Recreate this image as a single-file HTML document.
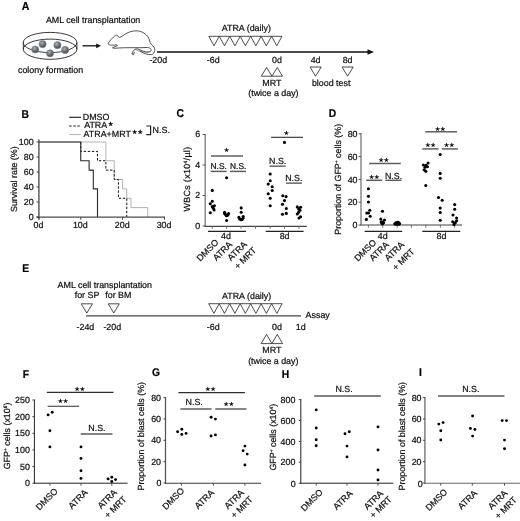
<!DOCTYPE html>
<html lang="en">
<head>
<meta charset="utf-8">
<title>Figure</title>
<style>html,body{margin:0;padding:0;background:#fff;}svg{display:block;}text{stroke:#111;stroke-width:.22px;text-rendering:geometricPrecision;}</style>
</head>
<body>
<svg width="520" height="521" viewBox="0 0 520 521" font-family="'Liberation Sans', Arial, sans-serif" fill="#111">
<defs><radialGradient id="ball" cx="40%" cy="35%" r="70%"><stop offset="0" stop-color="#b0b0b0"/><stop offset="0.55" stop-color="#6c6c6c"/><stop offset="1" stop-color="#3e3e3e"/></radialGradient></defs>
<rect width="520" height="521" fill="#fff"/>
<text x="21.80" y="9.50" font-size="11.5" font-weight="bold" transform="translate(21.80 9.50) scale(0.92 1) translate(-21.80 -9.50)" fill="#000">A</text>
<text x="45.90" y="22.80" font-size="8.9">AML cell transplantation</text>
<text x="18.00" y="72.80" font-size="8.9">colony formation</text>
<ellipse cx="50.1" cy="42.5" rx="26.8" ry="10.1" fill="none" stroke="#222" stroke-width="0.9"/>
<ellipse cx="50.1" cy="49.2" rx="26.8" ry="10.1" fill="none" stroke="#222" stroke-width="0.9"/>
<line x1="23.30" y1="42.50" x2="23.30" y2="49.20" stroke="#222" stroke-width="0.9"/>
<line x1="76.90" y1="42.50" x2="76.90" y2="49.20" stroke="#222" stroke-width="0.9"/>
<circle cx="42.6" cy="44.1" r="3.6" fill="url(#ball)" stroke="#6f8db3" stroke-width="0.6"/>
<circle cx="57.4" cy="45.2" r="3.6" fill="url(#ball)" stroke="#6f8db3" stroke-width="0.6"/>
<circle cx="35.2" cy="49.5" r="3.6" fill="url(#ball)" stroke="#6f8db3" stroke-width="0.6"/>
<circle cx="50.0" cy="53.3" r="3.6" fill="url(#ball)" stroke="#6f8db3" stroke-width="0.6"/>
<circle cx="65.1" cy="49.9" r="3.6" fill="url(#ball)" stroke="#6f8db3" stroke-width="0.6"/>
<line x1="82.50" y1="45.80" x2="97.50" y2="45.80" stroke="#111" stroke-width="1.3"/>
<polygon points="96.2,43.4 101,45.8 96.2,48.2" fill="#111"/>
<path d="M108.12,43.75 C108.75,41.88 112.50,37.50 115.62,35.25 L116.88,35.25 L119.38,37.50 C121.25,37.25 124.38,34.38 126.88,33.12 C130.00,31.50 133.75,30.62 137.50,30.88 C142.50,31.25 148.12,35.00 149.38,40.00 C149.75,43.75 152.50,45.00 154.00,47.25 C155.62,50.00 154.75,53.75 151.25,54.62 C147.50,55.25 142.50,52.75 139.38,50.62" fill="none" stroke="#333" stroke-width="0.85"/>
<path d="M108.12,43.75 C108.50,45.00 111.25,45.75 116.25,44.75 L117.50,45.50 L112.50,47.75 L114.00,48.25 C125.00,47.25 137.50,48.00 147.50,47.50 C150.62,47.75 152.25,50.00 150.25,51.62 C147.50,53.00 143.12,51.25 139.38,49.50 C136.88,48.25 134.38,48.75 133.12,51.25 L131.88,54.00 L133.50,54.75 L134.38,51.88" fill="none" stroke="#333" stroke-width="0.85"/>
<path d="M135.25,49.50 C140.00,51.88 145.00,52.75 149.38,51.50" fill="none" stroke="#555" stroke-width="0.6"/>
<line x1="157.00" y1="52.00" x2="369.00" y2="52.00" stroke="#111" stroke-width="1.35"/>
<polygon points="367.5,49.3 374,52 367.5,54.7" fill="#111"/>
<text x="158.30" y="62.60" font-size="8.9" text-anchor="middle">-20d</text>
<text x="213.20" y="62.60" font-size="8.9" text-anchor="middle">-6d</text>
<text x="277.00" y="62.60" font-size="8.9" text-anchor="middle">0d</text>
<text x="315.60" y="62.60" font-size="8.9" text-anchor="middle">4d</text>
<text x="347.60" y="62.60" font-size="8.9" text-anchor="middle">8d</text>
<text x="246.30" y="30.90" font-size="8.9" text-anchor="middle">ATRA (daily)</text>
<polygon points="208.80,36.30 219.26,36.30 214.03,45.80" fill="#fff" stroke="#222" stroke-width="0.8" stroke-linejoin="miter"/>
<polygon points="219.26,36.30 229.71,36.30 224.49,45.80" fill="#fff" stroke="#222" stroke-width="0.8" stroke-linejoin="miter"/>
<polygon points="229.71,36.30 240.17,36.30 234.94,45.80" fill="#fff" stroke="#222" stroke-width="0.8" stroke-linejoin="miter"/>
<polygon points="240.17,36.30 250.63,36.30 245.40,45.80" fill="#fff" stroke="#222" stroke-width="0.8" stroke-linejoin="miter"/>
<polygon points="250.63,36.30 261.09,36.30 255.86,45.80" fill="#fff" stroke="#222" stroke-width="0.8" stroke-linejoin="miter"/>
<polygon points="261.09,36.30 271.54,36.30 266.31,45.80" fill="#fff" stroke="#222" stroke-width="0.8" stroke-linejoin="miter"/>
<polygon points="271.54,36.30 282.00,36.30 276.77,45.80" fill="#fff" stroke="#222" stroke-width="0.8" stroke-linejoin="miter"/>
<polygon points="261.30,76.20 271.90,76.20 266.60,67.50" fill="#fff" stroke="#222" stroke-width="0.8" stroke-linejoin="miter"/>
<polygon points="271.90,76.20 282.50,76.20 277.20,67.50" fill="#fff" stroke="#222" stroke-width="0.8" stroke-linejoin="miter"/>
<text x="271.90" y="85.90" font-size="8.9" text-anchor="middle">MRT</text>
<text x="273.40" y="96.20" font-size="8.9" text-anchor="middle">(twice a day)</text>
<polygon points="310.00,67.00 321.20,67.00 315.60,76.20" fill="#fff" stroke="#222" stroke-width="0.8" stroke-linejoin="miter"/>
<polygon points="342.00,67.00 353.20,67.00 347.60,76.20" fill="#fff" stroke="#222" stroke-width="0.8" stroke-linejoin="miter"/>
<text x="331.20" y="85.60" font-size="8.9" text-anchor="middle">blood test</text>
<text x="21.60" y="117.70" font-size="11.2" font-weight="bold" transform="translate(21.60 117.70) scale(0.92 1) translate(-21.60 -117.70)" fill="#000">B</text>
<line x1="69.20" y1="117.30" x2="81.00" y2="117.30" stroke="#222" stroke-width="1.15"/>
<text x="82.80" y="120.30" font-size="8.9">DMSO</text>
<line x1="69.20" y1="126.00" x2="81.00" y2="126.00" stroke="#111" stroke-width="1.0" stroke-dasharray="2.4 1.7"/>
<text x="84.20" y="128.10" font-size="8.9">ATRA</text>
<text x="110.60" y="125.96" font-size="6.0" text-anchor="middle" fill="#000" font-family="DejaVu Sans, sans-serif">★</text>
<line x1="69.20" y1="134.60" x2="81.00" y2="134.60" stroke="#b2b2b2" stroke-width="1.0"/>
<text x="83.60" y="136.90" font-size="8.9">ATRA+MRT</text>
<text x="137.40" y="134.16" font-size="6.0" text-anchor="middle" fill="#000" font-family="DejaVu Sans, sans-serif">★★</text>
<path d="M146.3,126 L150.6,126 L150.6,134.7 L146.3,134.7" fill="none" stroke="#222" stroke-width="1.2"/>
<text x="152.60" y="133.10" font-size="8.9">N.S.</text>
<path d="M38.90,142.00 L105.86,142.00 L105.86,160.75 L114.23,160.75 L114.23,179.50 L122.60,179.50 L122.60,188.88 L126.78,188.88 L126.78,198.25 L130.97,198.25 L130.97,207.62 L147.71,207.62 L147.71,217.00" fill="none" stroke="#b2b2b2" stroke-width="1.0"/>
<path d="M80.75,142.00 L80.75,151.38 L97.49,151.38 L97.49,160.75 L105.86,160.75 L105.86,170.12 L114.23,170.12 L114.23,179.50 L118.41,179.50 L118.41,198.25 L126.78,198.25 L126.78,217.00" fill="none" stroke="#111" stroke-width="1.0" stroke-dasharray="2.4 1.7"/>
<path d="M38.90,142.00 L80.75,142.00 L80.75,160.75 L89.12,160.75 L89.12,170.12 L93.30,170.12 L93.30,188.88 L97.49,188.88 L97.49,217.00" fill="none" stroke="#2a2a2a" stroke-width="1.1"/>
<line x1="38.90" y1="139.60" x2="38.90" y2="219.60" stroke="#4a4a4a" stroke-width="1.35"/>
<line x1="36.30" y1="217.10" x2="164.95" y2="217.10" stroke="#4a4a4a" stroke-width="1.45"/>
<line x1="36.50" y1="217.00" x2="38.90" y2="217.00" stroke="#3a3a3a" stroke-width="0.9"/>
<text x="33.60" y="220.15" font-size="8.9" text-anchor="end">0</text>
<line x1="36.50" y1="202.00" x2="38.90" y2="202.00" stroke="#3a3a3a" stroke-width="0.9"/>
<text x="33.60" y="205.15" font-size="8.9" text-anchor="end">20</text>
<line x1="36.50" y1="187.00" x2="38.90" y2="187.00" stroke="#3a3a3a" stroke-width="0.9"/>
<text x="33.60" y="190.15" font-size="8.9" text-anchor="end">40</text>
<line x1="36.50" y1="172.00" x2="38.90" y2="172.00" stroke="#3a3a3a" stroke-width="0.9"/>
<text x="33.60" y="175.15" font-size="8.9" text-anchor="end">60</text>
<line x1="36.50" y1="157.00" x2="38.90" y2="157.00" stroke="#3a3a3a" stroke-width="0.9"/>
<text x="33.60" y="160.15" font-size="8.9" text-anchor="end">80</text>
<line x1="36.50" y1="142.00" x2="38.90" y2="142.00" stroke="#3a3a3a" stroke-width="0.9"/>
<text x="33.60" y="145.15" font-size="8.9" text-anchor="end">100</text>
<line x1="38.90" y1="217.00" x2="38.90" y2="219.70" stroke="#444" stroke-width="1.0"/>
<text x="38.50" y="228.00" font-size="8.9" text-anchor="middle">0d</text>
<line x1="80.75" y1="217.00" x2="80.75" y2="219.70" stroke="#444" stroke-width="1.0"/>
<text x="80.35" y="228.00" font-size="8.9" text-anchor="middle">10d</text>
<line x1="122.60" y1="217.00" x2="122.60" y2="219.70" stroke="#444" stroke-width="1.0"/>
<text x="122.20" y="228.00" font-size="8.9" text-anchor="middle">20d</text>
<line x1="164.45" y1="217.00" x2="164.45" y2="219.70" stroke="#444" stroke-width="1.0"/>
<text x="164.05" y="228.00" font-size="8.9" text-anchor="middle">30d</text>
<text x="17.40" y="179.20" font-size="8.9" text-anchor="middle" transform="rotate(-90 17.40 179.20)">Survival rate (%)</text>
<text x="176.60" y="117.00" font-size="11.3" font-weight="bold" transform="translate(176.60 117.00) scale(0.92 1) translate(-176.60 -117.00)" fill="#000">C</text>
<line x1="205.20" y1="134.00" x2="205.20" y2="226.60" stroke="#808080" stroke-width="1.4"/>
<line x1="204.50" y1="226.35" x2="306.80" y2="226.35" stroke="#444" stroke-width="1.05"/>
<line x1="202.60" y1="226.00" x2="205.20" y2="226.00" stroke="#555" stroke-width="1.0"/>
<text x="200.20" y="228.90" font-size="8.9" text-anchor="end">0</text>
<line x1="202.60" y1="195.50" x2="205.20" y2="195.50" stroke="#555" stroke-width="1.0"/>
<text x="200.20" y="198.40" font-size="8.9" text-anchor="end">2</text>
<line x1="202.60" y1="165.00" x2="205.20" y2="165.00" stroke="#555" stroke-width="1.0"/>
<text x="200.20" y="167.90" font-size="8.9" text-anchor="end">4</text>
<line x1="202.60" y1="134.50" x2="205.20" y2="134.50" stroke="#555" stroke-width="1.0"/>
<text x="200.20" y="137.40" font-size="8.9" text-anchor="end">6</text>
<line x1="212.30" y1="226.00" x2="212.30" y2="228.60" stroke="#666" stroke-width="1.0"/>
<line x1="226.60" y1="226.00" x2="226.60" y2="228.60" stroke="#666" stroke-width="1.0"/>
<line x1="241.00" y1="226.00" x2="241.00" y2="228.60" stroke="#666" stroke-width="1.0"/>
<line x1="255.50" y1="226.00" x2="255.50" y2="228.60" stroke="#666" stroke-width="1.0"/>
<line x1="270.10" y1="226.00" x2="270.10" y2="228.60" stroke="#666" stroke-width="1.0"/>
<line x1="284.50" y1="226.00" x2="284.50" y2="228.60" stroke="#666" stroke-width="1.0"/>
<line x1="299.00" y1="226.00" x2="299.00" y2="228.60" stroke="#666" stroke-width="1.0"/>
<text x="189.60" y="179.00" font-size="8.9" text-anchor="middle" transform="rotate(-90 189.60 179.00)" letter-spacing="0.35">WBCs (x10<tspan font-size="4.9" dy="-3">4</tspan><tspan dy="3">/µl)</tspan></text>
<g fill="#000"><circle cx="212.3" cy="190.4" r="1.55"/><circle cx="212.3" cy="201.3" r="1.55"/><circle cx="210.3" cy="203.8" r="1.55"/><circle cx="214.4" cy="205.7" r="1.55"/><circle cx="212.3" cy="206.6" r="1.55"/><circle cx="213.4" cy="208.2" r="1.55"/><circle cx="214.1" cy="209.9" r="1.55"/><circle cx="210.3" cy="212.7" r="1.55"/><circle cx="226.6" cy="177.8" r="1.55"/><circle cx="224.6" cy="212.4" r="1.55"/><circle cx="228.6" cy="213.6" r="1.55"/><circle cx="225.2" cy="214.3" r="1.55"/><circle cx="227.6" cy="215.3" r="1.55"/><circle cx="226.4" cy="215.7" r="1.55"/><circle cx="224.9" cy="213.6" r="1.55"/><circle cx="226.6" cy="220.5" r="1.55"/><circle cx="241.2" cy="207.9" r="1.55"/><circle cx="241.2" cy="212.3" r="1.55"/><circle cx="243.2" cy="216.6" r="1.55"/><circle cx="238.9" cy="217.2" r="1.55"/><circle cx="243.0" cy="218.3" r="1.55"/><circle cx="239.6" cy="219.0" r="1.55"/><circle cx="241.0" cy="219.7" r="1.55"/><circle cx="242.0" cy="219.4" r="1.55"/><circle cx="270.2" cy="174.0" r="1.55"/><circle cx="270.2" cy="180.7" r="1.55"/><circle cx="268.2" cy="184.1" r="1.55"/><circle cx="272.2" cy="186.8" r="1.55"/><circle cx="272.2" cy="190.5" r="1.55"/><circle cx="268.2" cy="193.8" r="1.55"/><circle cx="270.2" cy="198.2" r="1.55"/><circle cx="270.2" cy="205.8" r="1.55"/><circle cx="284.5" cy="142.4" r="1.55"/><circle cx="282.8" cy="195.8" r="1.55"/><circle cx="286.1" cy="196.6" r="1.55"/><circle cx="284.5" cy="200.6" r="1.55"/><circle cx="282.5" cy="204.2" r="1.55"/><circle cx="286.3" cy="208.5" r="1.55"/><circle cx="286.3" cy="213.4" r="1.55"/><circle cx="282.5" cy="214.3" r="1.55"/><circle cx="297.3" cy="206.9" r="1.55"/><circle cx="300.6" cy="207.2" r="1.55"/><circle cx="298.6" cy="208.9" r="1.55"/><circle cx="300.0" cy="210.3" r="1.55"/><circle cx="298.6" cy="212.3" r="1.55"/><circle cx="297.3" cy="214.0" r="1.55"/><circle cx="300.6" cy="216.7" r="1.55"/><circle cx="299.0" cy="218.0" r="1.55"/></g>
<line x1="208.00" y1="231.30" x2="246.00" y2="231.30" stroke="#222" stroke-width="1.3"/>
<line x1="265.70" y1="231.30" x2="303.60" y2="231.30" stroke="#222" stroke-width="1.3"/>
<text x="226.00" y="238.60" font-size="8.9" text-anchor="middle">4d</text>
<text x="284.60" y="238.60" font-size="8.9" text-anchor="middle">8d</text>
<line x1="211.00" y1="156.00" x2="243.00" y2="156.00" stroke="#5a5a5a" stroke-width="1.45"/>
<text x="226.60" y="151.69" font-size="5.8" text-anchor="middle" fill="#000" font-family="DejaVu Sans, sans-serif">★</text>
<line x1="210.70" y1="171.40" x2="226.70" y2="171.40" stroke="#5a5a5a" stroke-width="1.45"/>
<line x1="230.00" y1="171.40" x2="246.00" y2="171.40" stroke="#5a5a5a" stroke-width="1.45"/>
<text x="218.70" y="169.40" font-size="8.4" text-anchor="middle">N.S.</text>
<text x="238.20" y="169.40" font-size="8.4" text-anchor="middle">N.S.</text>
<line x1="271.10" y1="137.30" x2="303.00" y2="137.30" stroke="#2e2e2e" stroke-width="1.1"/>
<text x="286.30" y="135.49" font-size="5.8" text-anchor="middle" fill="#000" font-family="DejaVu Sans, sans-serif">★</text>
<text x="277.70" y="164.00" font-size="8.9" text-anchor="middle">N.S.</text>
<line x1="269.50" y1="166.10" x2="285.60" y2="166.10" stroke="#2e2e2e" stroke-width="1.1"/>
<text x="293.80" y="180.80" font-size="8.9" text-anchor="middle">N.S.</text>
<line x1="286.00" y1="183.10" x2="302.00" y2="183.10" stroke="#2e2e2e" stroke-width="1.1"/>
<text x="219.10" y="242.90" font-size="8.9" text-anchor="end" transform="rotate(-45 219.10 242.90)">DMSO</text>
<text x="232.80" y="245.00" font-size="8.9" text-anchor="end" transform="rotate(-45 232.80 245.00)">ATRA</text>
<text x="247.40" y="245.00" font-size="8.9" text-anchor="end" transform="rotate(-45 247.40 245.00)">ATRA</text>
<text x="256.80" y="250.80" font-size="8.9" text-anchor="end" transform="rotate(-45 256.80 250.80)">+ MRT</text>
<text x="328.80" y="117.20" font-size="11.2" font-weight="bold" transform="translate(328.80 117.20) scale(0.92 1) translate(-328.80 -117.20)" fill="#000">D</text>
<line x1="361.00" y1="133.30" x2="361.00" y2="225.60" stroke="#808080" stroke-width="1.4"/>
<line x1="360.30" y1="225.00" x2="462.00" y2="225.00" stroke="#808080" stroke-width="1.3"/>
<line x1="358.60" y1="225.00" x2="361.00" y2="225.00" stroke="#555" stroke-width="1.0"/>
<text x="357.50" y="228.10" font-size="8.9" text-anchor="end">0</text>
<line x1="358.60" y1="202.20" x2="361.00" y2="202.20" stroke="#555" stroke-width="1.0"/>
<text x="357.50" y="205.30" font-size="8.9" text-anchor="end">20</text>
<line x1="358.60" y1="179.40" x2="361.00" y2="179.40" stroke="#555" stroke-width="1.0"/>
<text x="357.50" y="182.50" font-size="8.9" text-anchor="end">40</text>
<line x1="358.60" y1="156.60" x2="361.00" y2="156.60" stroke="#555" stroke-width="1.0"/>
<text x="357.50" y="159.70" font-size="8.9" text-anchor="end">60</text>
<line x1="358.60" y1="133.80" x2="361.00" y2="133.80" stroke="#555" stroke-width="1.0"/>
<text x="357.50" y="136.90" font-size="8.9" text-anchor="end">80</text>
<line x1="368.40" y1="225.00" x2="368.40" y2="227.60" stroke="#666" stroke-width="1.0"/>
<line x1="382.70" y1="225.00" x2="382.70" y2="227.60" stroke="#666" stroke-width="1.0"/>
<line x1="397.20" y1="225.00" x2="397.20" y2="227.60" stroke="#666" stroke-width="1.0"/>
<line x1="411.40" y1="225.00" x2="411.40" y2="227.60" stroke="#666" stroke-width="1.0"/>
<line x1="425.80" y1="225.00" x2="425.80" y2="227.60" stroke="#666" stroke-width="1.0"/>
<line x1="440.40" y1="225.00" x2="440.40" y2="227.60" stroke="#666" stroke-width="1.0"/>
<line x1="454.70" y1="225.00" x2="454.70" y2="227.60" stroke="#666" stroke-width="1.0"/>
<text x="340.90" y="179.30" font-size="8.9" text-anchor="middle" transform="rotate(-90 340.90 179.30)">Proportion of GFP<tspan font-size="4.9" dy="-3">+</tspan><tspan dy="3"> cells (%)</tspan></text>
<g fill="#000"><circle cx="368.4" cy="188.8" r="1.55"/><circle cx="368.4" cy="196.2" r="1.55"/><circle cx="368.4" cy="202.0" r="1.55"/><circle cx="369.8" cy="210.3" r="1.55"/><circle cx="366.8" cy="213.0" r="1.55"/><circle cx="368.5" cy="213.0" r="1.55"/><circle cx="370.2" cy="216.3" r="1.55"/><circle cx="366.4" cy="219.4" r="1.55"/><circle cx="382.5" cy="211.3" r="1.55"/><circle cx="380.8" cy="219.0" r="1.55"/><circle cx="384.5" cy="220.0" r="1.55"/><circle cx="381.2" cy="221.7" r="1.55"/><circle cx="382.5" cy="223.7" r="1.55"/><circle cx="383.6" cy="222.8" r="1.55"/><circle cx="381.6" cy="223.0" r="1.55"/><circle cx="382.6" cy="222.0" r="1.55"/><circle cx="394.8" cy="223.7" r="1.55"/><circle cx="396.0" cy="222.9" r="1.55"/><circle cx="397.3" cy="224.0" r="1.55"/><circle cx="398.4" cy="222.4" r="1.55"/><circle cx="399.6" cy="223.6" r="1.55"/><circle cx="397.0" cy="222.2" r="1.55"/><circle cx="398.8" cy="224.2" r="1.55"/><circle cx="395.8" cy="224.2" r="1.55"/><circle cx="428.1" cy="163.0" r="1.55"/><circle cx="423.4" cy="165.0" r="1.55"/><circle cx="426.1" cy="165.4" r="1.55"/><circle cx="427.4" cy="166.7" r="1.55"/><circle cx="425.0" cy="167.2" r="1.55"/><circle cx="424.1" cy="169.7" r="1.55"/><circle cx="425.8" cy="171.3" r="1.55"/><circle cx="425.8" cy="185.5" r="1.55"/><circle cx="440.2" cy="154.5" r="1.55"/><circle cx="440.2" cy="173.4" r="1.55"/><circle cx="440.2" cy="178.2" r="1.55"/><circle cx="438.5" cy="197.5" r="1.55"/><circle cx="442.2" cy="200.3" r="1.55"/><circle cx="440.2" cy="208.0" r="1.55"/><circle cx="440.2" cy="212.5" r="1.55"/><circle cx="440.2" cy="220.3" r="1.55"/><circle cx="454.7" cy="204.6" r="1.55"/><circle cx="454.7" cy="209.2" r="1.55"/><circle cx="453.0" cy="215.0" r="1.55"/><circle cx="456.6" cy="218.0" r="1.55"/><circle cx="456.6" cy="220.7" r="1.55"/><circle cx="452.7" cy="221.7" r="1.55"/><circle cx="455.4" cy="222.6" r="1.55"/><circle cx="454.0" cy="224.4" r="1.55"/></g>
<line x1="364.70" y1="231.30" x2="402.20" y2="231.30" stroke="#222" stroke-width="1.3"/>
<line x1="422.30" y1="231.30" x2="460.30" y2="231.30" stroke="#222" stroke-width="1.3"/>
<text x="382.80" y="238.60" font-size="8.9" text-anchor="middle">4d</text>
<text x="441.40" y="238.60" font-size="8.9" text-anchor="middle">8d</text>
<line x1="369.20" y1="163.50" x2="400.80" y2="163.50" stroke="#5a5a5a" stroke-width="1.45"/>
<text x="383.80" y="161.69" font-size="5.8" text-anchor="middle" fill="#000" font-family="DejaVu Sans, sans-serif">★★</text>
<line x1="366.20" y1="180.30" x2="382.30" y2="180.30" stroke="#5a5a5a" stroke-width="1.45"/>
<text x="374.30" y="178.69" font-size="5.8" text-anchor="middle" fill="#000" font-family="DejaVu Sans, sans-serif">★★</text>
<line x1="385.40" y1="180.30" x2="401.50" y2="180.30" stroke="#5a5a5a" stroke-width="1.45"/>
<text x="393.60" y="178.90" font-size="8.9" text-anchor="middle">N.S.</text>
<line x1="425.20" y1="131.80" x2="457.00" y2="131.80" stroke="#5a5a5a" stroke-width="1.45"/>
<text x="440.20" y="130.69" font-size="5.8" text-anchor="middle" fill="#000" font-family="DejaVu Sans, sans-serif">★★</text>
<line x1="422.30" y1="148.90" x2="438.60" y2="148.90" stroke="#5a5a5a" stroke-width="1.45"/>
<text x="430.50" y="146.89" font-size="5.8" text-anchor="middle" fill="#000" font-family="DejaVu Sans, sans-serif">★★</text>
<line x1="441.80" y1="148.90" x2="457.90" y2="148.90" stroke="#5a5a5a" stroke-width="1.45"/>
<text x="449.20" y="146.89" font-size="5.8" text-anchor="middle" fill="#000" font-family="DejaVu Sans, sans-serif">★★</text>
<text x="376.80" y="243.00" font-size="8.9" text-anchor="end" transform="rotate(-45 376.80 243.00)">DMSO</text>
<text x="389.40" y="245.20" font-size="8.9" text-anchor="end" transform="rotate(-45 389.40 245.20)">ATRA</text>
<text x="404.60" y="245.20" font-size="8.9" text-anchor="end" transform="rotate(-45 404.60 245.20)">ATRA</text>
<text x="415.00" y="252.10" font-size="8.9" text-anchor="end" transform="rotate(-45 415.00 252.10)">+ MRT</text>
<text x="22.20" y="272.10" font-size="11.2" font-weight="bold" transform="translate(22.20 272.10) scale(0.92 1) translate(-22.20 -272.10)" fill="#000">E</text>
<text x="57.60" y="287.60" font-size="8.9">AML cell transplantation</text>
<text x="74.70" y="298.00" font-size="8.9">for SP</text>
<text x="105.30" y="298.00" font-size="8.9">for BM</text>
<polygon points="81.20,303.80 92.50,303.80 86.85,313.00" fill="#fff" stroke="#222" stroke-width="0.8" stroke-linejoin="miter"/>
<polygon points="108.20,303.80 119.30,303.80 113.75,313.00" fill="#fff" stroke="#222" stroke-width="0.8" stroke-linejoin="miter"/>
<line x1="86.20" y1="315.90" x2="301.00" y2="315.90" stroke="#444" stroke-width="1.4"/>
<text x="85.40" y="330.10" font-size="8.9" text-anchor="middle">-24d</text>
<text x="112.30" y="330.10" font-size="8.9" text-anchor="middle">-20d</text>
<text x="213.20" y="330.10" font-size="8.9" text-anchor="middle">-6d</text>
<text x="277.00" y="330.10" font-size="8.9" text-anchor="middle">0d</text>
<text x="300.80" y="330.10" font-size="8.9" text-anchor="middle">1d</text>
<text x="305.60" y="317.60" font-size="8.9">Assay</text>
<text x="246.60" y="298.70" font-size="8.9" text-anchor="middle">ATRA (daily)</text>
<polygon points="208.70,303.70 219.19,303.70 213.94,313.40" fill="#fff" stroke="#222" stroke-width="0.8" stroke-linejoin="miter"/>
<polygon points="219.19,303.70 229.67,303.70 224.43,313.40" fill="#fff" stroke="#222" stroke-width="0.8" stroke-linejoin="miter"/>
<polygon points="229.67,303.70 240.16,303.70 234.91,313.40" fill="#fff" stroke="#222" stroke-width="0.8" stroke-linejoin="miter"/>
<polygon points="240.16,303.70 250.64,303.70 245.40,313.40" fill="#fff" stroke="#222" stroke-width="0.8" stroke-linejoin="miter"/>
<polygon points="250.64,303.70 261.13,303.70 255.89,313.40" fill="#fff" stroke="#222" stroke-width="0.8" stroke-linejoin="miter"/>
<polygon points="261.13,303.70 271.61,303.70 266.37,313.40" fill="#fff" stroke="#222" stroke-width="0.8" stroke-linejoin="miter"/>
<polygon points="271.61,303.70 282.10,303.70 276.86,313.40" fill="#fff" stroke="#222" stroke-width="0.8" stroke-linejoin="miter"/>
<polygon points="261.20,343.60 271.90,343.60 266.55,334.40" fill="#fff" stroke="#222" stroke-width="0.8" stroke-linejoin="miter"/>
<polygon points="271.90,343.60 282.60,343.60 277.25,334.40" fill="#fff" stroke="#222" stroke-width="0.8" stroke-linejoin="miter"/>
<text x="271.90" y="353.00" font-size="8.9" text-anchor="middle">MRT</text>
<text x="273.30" y="363.60" font-size="8.9" text-anchor="middle">(twice a day)</text>
<text x="22.70" y="378.10" font-size="11.2" font-weight="bold" transform="translate(22.70 378.10) scale(0.92 1) translate(-22.70 -378.10)" fill="#000">F</text>
<line x1="34.40" y1="399.50" x2="34.40" y2="483.70" stroke="#222" stroke-width="1.0"/>
<line x1="33.90" y1="483.20" x2="127.60" y2="483.20" stroke="#222" stroke-width="1.0"/>
<line x1="32.40" y1="483.20" x2="34.40" y2="483.20" stroke="#333" stroke-width="0.9"/>
<text x="29.90" y="486.30" font-size="8.9" text-anchor="end">0</text>
<line x1="32.40" y1="466.56" x2="34.40" y2="466.56" stroke="#333" stroke-width="0.9"/>
<text x="29.90" y="469.66" font-size="8.9" text-anchor="end">50</text>
<line x1="32.40" y1="449.92" x2="34.40" y2="449.92" stroke="#333" stroke-width="0.9"/>
<text x="29.90" y="453.02" font-size="8.9" text-anchor="end">100</text>
<line x1="32.40" y1="433.28" x2="34.40" y2="433.28" stroke="#333" stroke-width="0.9"/>
<text x="29.90" y="436.38" font-size="8.9" text-anchor="end">150</text>
<line x1="32.40" y1="416.64" x2="34.40" y2="416.64" stroke="#333" stroke-width="0.9"/>
<text x="29.90" y="419.74" font-size="8.9" text-anchor="end">200</text>
<line x1="32.40" y1="400.00" x2="34.40" y2="400.00" stroke="#333" stroke-width="0.9"/>
<text x="29.90" y="403.10" font-size="8.9" text-anchor="end">250</text>
<line x1="49.90" y1="483.20" x2="49.90" y2="485.70" stroke="#444" stroke-width="0.9"/>
<line x1="81.00" y1="483.20" x2="81.00" y2="485.70" stroke="#444" stroke-width="0.9"/>
<line x1="111.80" y1="483.20" x2="111.80" y2="485.70" stroke="#444" stroke-width="0.9"/>
<text x="10.40" y="436.00" font-size="8.9" text-anchor="middle" transform="rotate(-90 10.40 436.00)">GFP<tspan font-size="4.9" dy="-3">+</tspan><tspan dy="3"> cells (x10</tspan><tspan font-size="4.9" dy="-3">6</tspan><tspan dy="3">)</tspan></text>
<g fill="#000"><circle cx="48.1" cy="414.9" r="1.45"/><circle cx="52.2" cy="412.3" r="1.45"/><circle cx="49.9" cy="430.7" r="1.45"/><circle cx="49.9" cy="446.9" r="1.45"/><circle cx="81.0" cy="446.9" r="1.45"/><circle cx="81.0" cy="458.4" r="1.45"/><circle cx="81.0" cy="470.7" r="1.45"/><circle cx="81.0" cy="478.4" r="1.45"/><circle cx="108.1" cy="478.9" r="1.45"/><circle cx="111.8" cy="477.3" r="1.45"/><circle cx="115.6" cy="479.6" r="1.45"/><circle cx="111.8" cy="481.5" r="1.45"/></g>
<line x1="46.90" y1="392.40" x2="113.50" y2="392.40" stroke="#2e2e2e" stroke-width="1.1"/>
<text x="79.70" y="390.69" font-size="5.8" text-anchor="middle" fill="#000" font-family="DejaVu Sans, sans-serif">★★</text>
<line x1="47.60" y1="406.30" x2="79.20" y2="406.30" stroke="#2e2e2e" stroke-width="1.1"/>
<text x="63.00" y="402.99" font-size="5.8" text-anchor="middle" fill="#000" font-family="DejaVu Sans, sans-serif">★★</text>
<line x1="80.70" y1="434.00" x2="112.50" y2="434.00" stroke="#5a5a5a" stroke-width="1.45"/>
<text x="96.90" y="430.80" font-size="8.9" text-anchor="middle">N.S.</text>
<text x="58.30" y="491.80" font-size="8.9" text-anchor="end" transform="rotate(-45 58.30 491.80)">DMSO</text>
<text x="88.20" y="493.10" font-size="8.9" text-anchor="end" transform="rotate(-45 88.20 493.10)">ATRA</text>
<text x="117.50" y="493.10" font-size="8.9" text-anchor="end" transform="rotate(-45 117.50 493.10)">ATRA</text>
<text x="127.00" y="499.80" font-size="8.9" text-anchor="end" transform="rotate(-45 127.00 499.80)">+ MRT</text>
<text x="152.00" y="376.40" font-size="11.2" font-weight="bold" transform="translate(152.00 376.40) scale(0.92 1) translate(-152.00 -376.40)" fill="#000">G</text>
<line x1="165.50" y1="397.10" x2="165.50" y2="483.70" stroke="#555" stroke-width="1.25"/>
<line x1="165.00" y1="483.20" x2="261.00" y2="483.20" stroke="#3a3a3a" stroke-width="1.1"/>
<line x1="163.50" y1="483.00" x2="165.50" y2="483.00" stroke="#333" stroke-width="0.9"/>
<text x="161.50" y="485.60" font-size="8.9" text-anchor="end">0</text>
<line x1="163.50" y1="461.65" x2="165.50" y2="461.65" stroke="#333" stroke-width="0.9"/>
<text x="161.00" y="464.75" font-size="8.9" text-anchor="end">20</text>
<line x1="163.50" y1="440.30" x2="165.50" y2="440.30" stroke="#333" stroke-width="0.9"/>
<text x="161.00" y="443.40" font-size="8.9" text-anchor="end">40</text>
<line x1="163.50" y1="418.95" x2="165.50" y2="418.95" stroke="#333" stroke-width="0.9"/>
<text x="161.00" y="422.05" font-size="8.9" text-anchor="end">60</text>
<line x1="163.50" y1="397.60" x2="165.50" y2="397.60" stroke="#333" stroke-width="0.9"/>
<text x="161.00" y="400.70" font-size="8.9" text-anchor="end">80</text>
<line x1="181.40" y1="483.20" x2="181.40" y2="485.70" stroke="#444" stroke-width="0.9"/>
<line x1="213.40" y1="483.20" x2="213.40" y2="485.70" stroke="#444" stroke-width="0.9"/>
<line x1="244.90" y1="483.20" x2="244.90" y2="485.70" stroke="#444" stroke-width="0.9"/>
<text x="144.00" y="436.20" font-size="8.9" text-anchor="middle" transform="rotate(-90 144.00 436.20)">Proportion of blast cells (%)</text>
<g fill="#000"><circle cx="177.6" cy="431.8" r="1.45"/><circle cx="181.8" cy="429.2" r="1.45"/><circle cx="181.8" cy="434.4" r="1.45"/><circle cx="186.1" cy="433.4" r="1.45"/><circle cx="211.1" cy="417.2" r="1.45"/><circle cx="215.4" cy="419.1" r="1.45"/><circle cx="211.1" cy="436.0" r="1.45"/><circle cx="215.4" cy="434.9" r="1.45"/><circle cx="244.9" cy="446.1" r="1.45"/><circle cx="243.1" cy="450.7" r="1.45"/><circle cx="247.2" cy="454.1" r="1.45"/><circle cx="244.9" cy="465.0" r="1.45"/></g>
<line x1="178.40" y1="392.60" x2="244.90" y2="392.60" stroke="#2e2e2e" stroke-width="1.1"/>
<text x="210.40" y="390.89" font-size="5.8" text-anchor="middle" fill="#000" font-family="DejaVu Sans, sans-serif">★★</text>
<line x1="180.40" y1="409.00" x2="211.60" y2="409.00" stroke="#5a5a5a" stroke-width="1.45"/>
<text x="194.20" y="404.70" font-size="8.9" text-anchor="middle">N.S.</text>
<line x1="215.30" y1="409.00" x2="246.50" y2="409.00" stroke="#5a5a5a" stroke-width="1.45"/>
<text x="228.80" y="405.99" font-size="5.8" text-anchor="middle" fill="#000" font-family="DejaVu Sans, sans-serif">★★</text>
<text x="184.80" y="491.30" font-size="8.9" text-anchor="end" transform="rotate(-45 184.80 491.30)">DMSO</text>
<text x="214.60" y="493.30" font-size="8.9" text-anchor="end" transform="rotate(-45 214.60 493.30)">ATRA</text>
<text x="244.40" y="493.30" font-size="8.9" text-anchor="end" transform="rotate(-45 244.40 493.30)">ATRA</text>
<text x="253.40" y="499.90" font-size="8.9" text-anchor="end" transform="rotate(-45 253.40 499.90)">+ MRT</text>
<text x="281.80" y="378.10" font-size="11.2" font-weight="bold" transform="translate(281.80 378.10) scale(0.92 1) translate(-281.80 -378.10)" fill="#000">H</text>
<line x1="300.80" y1="399.10" x2="300.80" y2="483.70" stroke="#222" stroke-width="1.0"/>
<line x1="300.30" y1="483.20" x2="393.40" y2="483.20" stroke="#222" stroke-width="1.0"/>
<line x1="298.80" y1="483.30" x2="300.80" y2="483.30" stroke="#333" stroke-width="0.9"/>
<text x="295.60" y="487.20" font-size="8.9" text-anchor="end">0</text>
<line x1="298.80" y1="462.37" x2="300.80" y2="462.37" stroke="#333" stroke-width="0.9"/>
<text x="295.40" y="465.47" font-size="8.9" text-anchor="end">200</text>
<line x1="298.80" y1="441.44" x2="300.80" y2="441.44" stroke="#333" stroke-width="0.9"/>
<text x="295.40" y="444.54" font-size="8.9" text-anchor="end">400</text>
<line x1="298.80" y1="420.51" x2="300.80" y2="420.51" stroke="#333" stroke-width="0.9"/>
<text x="295.40" y="423.61" font-size="8.9" text-anchor="end">600</text>
<line x1="298.80" y1="399.58" x2="300.80" y2="399.58" stroke="#333" stroke-width="0.9"/>
<text x="295.40" y="402.68" font-size="8.9" text-anchor="end">800</text>
<line x1="316.20" y1="483.20" x2="316.20" y2="485.70" stroke="#444" stroke-width="0.9"/>
<line x1="347.00" y1="483.20" x2="347.00" y2="485.70" stroke="#444" stroke-width="0.9"/>
<line x1="378.00" y1="483.20" x2="378.00" y2="485.70" stroke="#444" stroke-width="0.9"/>
<text x="276.20" y="437.20" font-size="8.9" text-anchor="middle" transform="rotate(-90 276.20 437.20)">GFP<tspan font-size="4.9" dy="-3">+</tspan><tspan dy="3"> cells (x10</tspan><tspan font-size="4.9" dy="-3">4</tspan><tspan dy="3">)</tspan></text>
<g fill="#000"><circle cx="316.2" cy="409.9" r="1.45"/><circle cx="316.2" cy="428.0" r="1.45"/><circle cx="316.2" cy="439.8" r="1.45"/><circle cx="316.2" cy="445.8" r="1.45"/><circle cx="345.0" cy="433.8" r="1.45"/><circle cx="349.3" cy="431.8" r="1.45"/><circle cx="347.0" cy="446.1" r="1.45"/><circle cx="347.0" cy="456.9" r="1.45"/><circle cx="378.0" cy="426.9" r="1.45"/><circle cx="378.0" cy="450.0" r="1.45"/><circle cx="378.0" cy="470.0" r="1.45"/><circle cx="378.0" cy="479.9" r="1.45"/></g>
<line x1="314.20" y1="395.90" x2="380.80" y2="395.90" stroke="#5a5a5a" stroke-width="1.45"/>
<text x="344.10" y="391.60" font-size="8.9" text-anchor="middle">N.S.</text>
<text x="323.40" y="492.80" font-size="8.9" text-anchor="end" transform="rotate(-45 323.40 492.80)">DMSO</text>
<text x="353.10" y="494.00" font-size="8.9" text-anchor="end" transform="rotate(-45 353.10 494.00)">ATRA</text>
<text x="383.70" y="494.00" font-size="8.9" text-anchor="end" transform="rotate(-45 383.70 494.00)">ATRA</text>
<text x="392.40" y="499.80" font-size="8.9" text-anchor="end" transform="rotate(-45 392.40 499.80)">+ MRT</text>
<text x="418.90" y="376.30" font-size="11.2" font-weight="bold" transform="translate(418.90 376.30) scale(0.92 1) translate(-418.90 -376.30)" fill="#000">I</text>
<line x1="424.90" y1="397.10" x2="424.90" y2="483.70" stroke="#8c8c8c" stroke-width="1.7"/>
<line x1="424.40" y1="483.20" x2="520.00" y2="483.20" stroke="#666" stroke-width="1.15"/>
<line x1="422.90" y1="483.00" x2="424.90" y2="483.00" stroke="#333" stroke-width="0.9"/>
<text x="422.60" y="487.20" font-size="8.9" text-anchor="end">0</text>
<line x1="422.90" y1="461.65" x2="424.90" y2="461.65" stroke="#333" stroke-width="0.9"/>
<text x="421.50" y="464.75" font-size="8.9" text-anchor="end">20</text>
<line x1="422.90" y1="440.30" x2="424.90" y2="440.30" stroke="#333" stroke-width="0.9"/>
<text x="421.50" y="443.40" font-size="8.9" text-anchor="end">40</text>
<line x1="422.90" y1="418.95" x2="424.90" y2="418.95" stroke="#333" stroke-width="0.9"/>
<text x="421.50" y="422.05" font-size="8.9" text-anchor="end">60</text>
<line x1="422.90" y1="397.60" x2="424.90" y2="397.60" stroke="#333" stroke-width="0.9"/>
<text x="421.50" y="400.70" font-size="8.9" text-anchor="end">80</text>
<line x1="440.70" y1="483.20" x2="440.70" y2="485.70" stroke="#444" stroke-width="0.9"/>
<line x1="472.30" y1="483.20" x2="472.30" y2="485.70" stroke="#444" stroke-width="0.9"/>
<line x1="504.50" y1="483.20" x2="504.50" y2="485.70" stroke="#444" stroke-width="0.9"/>
<text x="405.00" y="436.20" font-size="8.9" text-anchor="middle" transform="rotate(-90 405.00 436.20)">Proportion of blast cells (%)</text>
<g fill="#000"><circle cx="438.8" cy="424.1" r="1.45"/><circle cx="443.1" cy="422.6" r="1.45"/><circle cx="440.8" cy="430.7" r="1.45"/><circle cx="440.8" cy="440.0" r="1.45"/><circle cx="472.6" cy="416.0" r="1.45"/><circle cx="470.4" cy="428.4" r="1.45"/><circle cx="474.9" cy="429.5" r="1.45"/><circle cx="472.6" cy="436.1" r="1.45"/><circle cx="502.2" cy="420.6" r="1.45"/><circle cx="506.5" cy="420.6" r="1.45"/><circle cx="504.5" cy="440.1" r="1.45"/><circle cx="504.5" cy="448.8" r="1.45"/></g>
<line x1="438.00" y1="396.00" x2="504.50" y2="396.00" stroke="#5a5a5a" stroke-width="1.45"/>
<text x="470.80" y="392.00" font-size="8.9" text-anchor="middle">N.S.</text>
<text x="448.00" y="492.50" font-size="8.9" text-anchor="end" transform="rotate(-45 448.00 492.50)">DMSO</text>
<text x="477.70" y="493.70" font-size="8.9" text-anchor="end" transform="rotate(-45 477.70 493.70)">ATRA</text>
<text x="508.00" y="493.70" font-size="8.9" text-anchor="end" transform="rotate(-45 508.00 493.70)">ATRA</text>
<text x="517.40" y="500.50" font-size="8.9" text-anchor="end" transform="rotate(-45 517.40 500.50)">+ MRT</text>
</svg>
</body>
</html>
